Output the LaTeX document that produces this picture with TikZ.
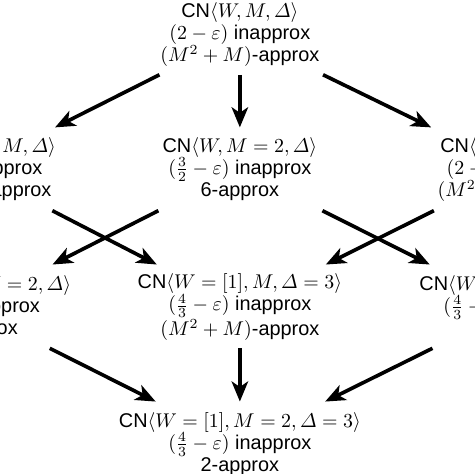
\RequirePackage{fix-cm}
\documentclass[tikz,border=0pt]{standalone}
\usepackage{amsmath}
\usepackage{fontspec}
\setmainfont{Liberation Sans}
\usetikzlibrary{arrows.meta,calc}

\tikzset{
    problem/.style={align=center,inner sep=1pt,font=\fontsize{10.9}{12.1}\selectfont},
    reduces/.style={draw=black,line width=2pt,-{Stealth[length=11pt,width=9pt,inset=3pt]}}
}

\begin{document}
\begin{tikzpicture}
    \useasboundingbox (0,0) rectangle (9.13,-9.13);
    \clip (0,0) rectangle (9.13,-9.13);
    \begin{scope}[every node/.style={problem}]
        \node (top) at (4.62,-0.66) {CN$\langle W, M, \varDelta\rangle$\\ $(2-\varepsilon)$ inapprox\\ $(M^2+M)$-approx};
        \node (ml) at (-0.54,-3.26) {CN$\langle W=[1], M, \varDelta\rangle$\\ $(2-\varepsilon)$ inapprox\\ $(M^2+M)$-approx};
        \node (mm) at (4.62,-3.26) {CN$\langle W, M=2, \varDelta\rangle$\\ $(\frac{3}{2}-\varepsilon)$ inapprox\\ 6-approx};
        \node (mr) at (9.96,-3.26) {CN$\langle W, M, \varDelta=3\rangle$\\ $(2-\varepsilon)$ inapprox\\ $(M^2+M)$-approx};
        \node (bl) at (-0.61,-5.92) {CN$\langle W=[1], M=2, \varDelta\rangle$\\ $(\frac{3}{2}-\varepsilon)$ inapprox\\ $2M$-approx};
        \node (bm) at (4.62,-5.92) {CN$\langle W=[1], M, \varDelta=3\rangle$\\ $(\frac{4}{3}-\varepsilon)$ inapprox\\ $(M^2+M)$-approx};
        \node (br) at (9.92,-5.92) {CN$\langle W, M=2, \varDelta=3\rangle$\\ $(\frac{4}{3}-\varepsilon)$ inapprox\\ 6-approx};
        \node (bot) at (4.62,-8.55) {CN$\langle W=[1], M=2, \varDelta=3\rangle$\\ $(\frac{4}{3}-\varepsilon)$ inapprox\\ 2-approx};
    \end{scope}
    \foreach \a/\b in {top/ml,top/mm,top/mr,ml/bm,mm/bl,mm/br,mr/bm,bl/bot,bm/bot,br/bot}
        \draw[reduces] ($(\a)!.3!(\b)$) -- ($(\a)!.69!(\b)$);
\end{tikzpicture}
\end{document}
